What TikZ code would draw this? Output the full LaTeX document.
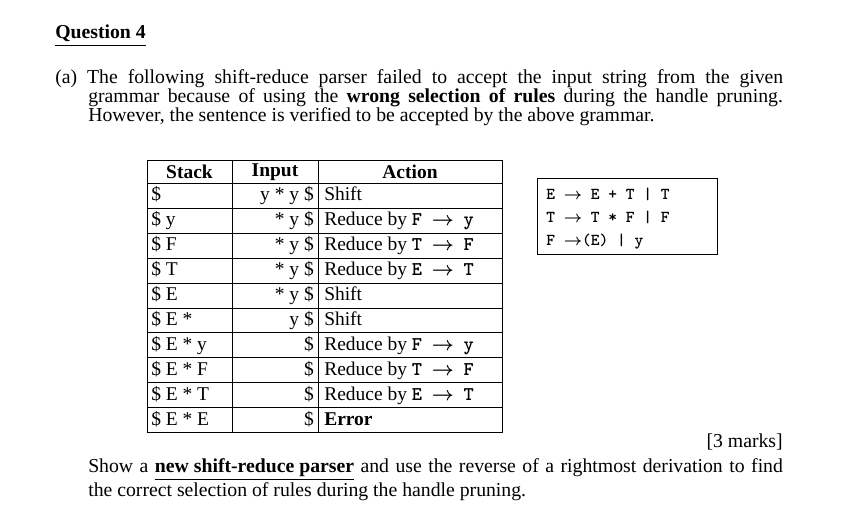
\documentclass[tikz,border=0pt]{standalone}
\usepackage{fontspec}
\setmainfont{Liberation Serif}
\usepackage{tikz}
\usetikzlibrary{positioning}
\newcommand{\rul}[2]{\texttt{\bfseries #1}~~$\boldsymbol{\rightarrow}$~~\texttt{\bfseries #2}}
\usepackage{amsmath,amssymb,bm}
\tikzset{
  txt/.style={anchor=base west, inner sep=0pt, font=\fontsize{14.8}{17}\selectfont},
  cell/.style={anchor=base west, inner sep=0pt, font=\fontsize{14.6}{17}\selectfont},
  inp/.style={anchor=base east, inner sep=0pt, font=\fontsize{14.6}{17}\selectfont},
  gram/.style={anchor=base west, inner sep=0pt, font=\ttfamily\bfseries\fontsize{12.5}{14}\selectfont}
}
\begin{document}
\begin{tikzpicture}[x=0.75pt, y=-0.75pt]
\useasboundingbox (0,0) rectangle (842,510);

 \node[txt, font=\bfseries\fontsize{14.8}{17}\selectfont] (title) at (55,39) {\underline{Question 4}};

 \node[txt] (l1) at (55,84) {\makebox[546pt][s]{(a) The following shift-reduce parser failed to accept the input string from the given}};
 \node[txt] (l2) at (88,103) {\makebox[521pt][s]{grammar because of using the \textbf{wrong selection of rules} during the handle pruning.}};
 \node[txt] (l3) at (88,122) {However, the sentence is verified to be accepted by the above grammar.};

 % table
 \draw (147,160) rectangle (502,432);
 \draw (232,160) -- (232,432);
 \draw (318,160) -- (318,432);
 \foreach \y in {183,208,233,258,283,308,332,357,382,407}
  \draw (147,\y) -- (502,\y);

 \node[font=\bfseries\fontsize{14.6}{17}\selectfont] (hstack) at (189.5,172) {Stack};
 \node[font=\bfseries\fontsize{14.6}{17}\selectfont] (hinput) at (275,172) {Input};
 \node[font=\bfseries\fontsize{14.6}{17}\selectfont] (haction) at (410,172) {Action};

 \foreach \s/\i/\a [count=\k] in {
   {\$}/{y * y \$}/{Shift},
   {\$ y}/{* y \$}/{Reduce by \rul{F}{y}},
   {\$ F}/{* y \$}/{Reduce by \rul{T}{F}},
   {\$ T}/{* y \$}/{Reduce by \rul{E}{T}},
   {\$ E}/{* y \$}/{Shift},
   {\$ E *}/{y \$}/{Shift},
   {\$ E * y}/{\$}/{Reduce by \rul{F}{y}},
   {\$ E * F}/{\$}/{Reduce by \rul{T}{F}},
   {\$ E * T}/{\$}/{Reduce by \rul{E}{T}},
   {\$ E * E}/{\$}/{\textbf{Error}}} {
   \node[cell] (stack\k) at (151,{176+24.9*\k}) {\s};
   \node[inp] (input\k) at (314,{176+24.9*\k}) {\i};
   \node[cell] (action\k) at (324,{176+24.9*\k}) {\a};
 }

 % grammar
 \draw (537,178) rectangle (717,254);
 \node[gram] (g1) at (546,199) {E $\boldsymbol{\rightarrow}$ E + T | T};
 \node[gram] (g2) at (546,222) {T $\boldsymbol{\rightarrow}$ T * F | F};
 \node[gram] (g3) at (546,245) {F $\boldsymbol{\rightarrow}$(E) | y};

 \node[anchor=base east, inner sep=0pt, font=\fontsize{14.8}{17}\selectfont] (marks) at (783,447) {[3 marks]};
 \node[txt] (l4) at (88,472) {\makebox[521pt][s]{Show a \textbf{\underline{new shift-reduce parser}} and use the reverse of a rightmost derivation to find}};
 \node[txt] (l5) at (88,496) {the correct selection of rules during the handle pruning.};
\end{tikzpicture}
\end{document}
